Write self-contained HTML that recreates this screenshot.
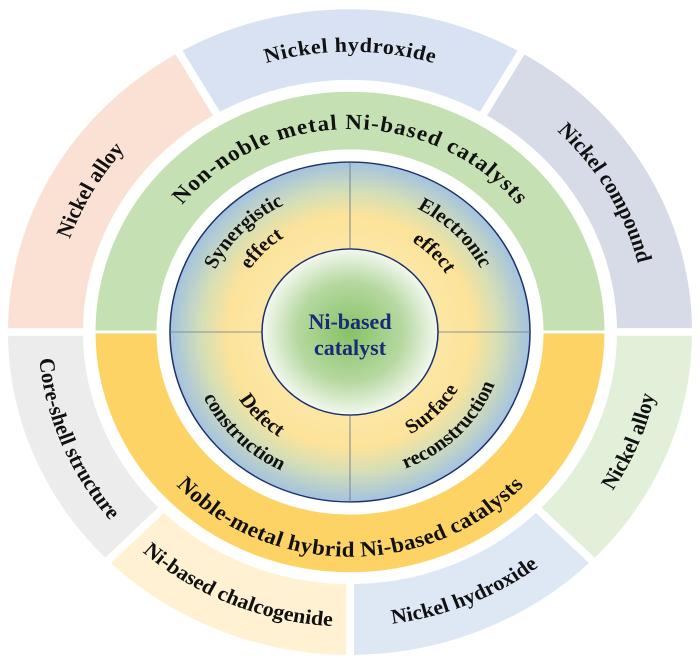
<!DOCTYPE html>
<html><head><meta charset="utf-8"><style>
html,body{margin:0;padding:0;background:#fff;}
svg{display:block;}
text{font-family:"Liberation Serif",serif;font-weight:bold;fill:#111;}
</style></head><body>
<svg width="700" height="663" viewBox="0 0 700 663" xmlns="http://www.w3.org/2000/svg">
<defs>
<radialGradient id="gi" cx="0" cy="0" r="180" gradientUnits="userSpaceOnUse">
<stop offset="0.48" stop-color="#fbe7a6"/>
<stop offset="0.68" stop-color="#fde39a"/>
<stop offset="0.82" stop-color="#d6dfb5"/>
<stop offset="1" stop-color="#a3c3df"/>
</radialGradient>
<radialGradient id="gc" cx="0" cy="0" r="88" gradientUnits="userSpaceOnUse">
<stop offset="0" stop-color="#86c265"/>
<stop offset="0.6" stop-color="#b6d8a0"/>
<stop offset="1" stop-color="#f3f8ef"/>
</radialGradient>
<path id="pT" d="M-257.2,-148.5 A297,297 0 0 1 257.2,-148.5"/>
<path id="pTL" d="M-257.2,148.5 A297,297 0 0 1 0,-297"/>
<path id="pTR" d="M0,-297 A297,297 0 0 1 257.2,148.5"/>
<path id="pG" d="M-215,0 A215,215 0 0 1 215,0"/>
<path id="pY" d="M-238,0 A238,238 0 0 0 238,0"/>
<path id="pB1" d="M-247.5,-190 A312,312 0 0 0 -40.7,309.3"/>
<path id="pB2" d="M-309.3,40.7 A312,312 0 0 0 190,247.5"/>
<path id="pB3" d="M-190,247.5 A312,312 0 0 0 309.3,40.7"/>
<path id="pB4" d="M40.7,309.3 A312,312 0 0 0 247.5,-190"/>
<path id="pS1" d="M-144.9,38.8 A150,150 0 0 1 38.8,-144.9"/>
<path id="pS2" d="M-115.9,31.1 A120,120 0 0 1 31.1,-115.9"/>
<path id="pE1" d="M-38,-142 A147,147 0 0 1 142,38"/>
<path id="pE2" d="M-29.5,-110.1 A114,114 0 0 1 110.1,29.5"/>
<path id="pD1" d="M-127.5,-34.2 A132,132 0 0 0 34.2,127.5"/>
<path id="pD2" d="M-156.5,-41.9 A162,162 0 0 0 41.9,156.5"/>
<path id="pR1" d="M-32.1,119.8 A124,124 0 0 0 119.8,-32.1"/>
<path id="pR2" d="M-40.1,149.7 A155,155 0 0 0 149.7,-40.1"/>
</defs>
<g transform="translate(350,332) scale(1,0.944)">
<g stroke="#fff" stroke-width="8">
<path d="M346,0 A346,346 0 0 0 173,-299.6 L131.5,-227.8 A263,263 0 0 1 263,0 Z" fill="#d6dbe7"/>
<path d="M173,-299.6 A346,346 0 0 0 -173,-299.6 L-131.5,-227.8 A263,263 0 0 1 131.5,-227.8 Z" fill="#d8e2f2"/>
<path d="M-173,-299.6 A346,346 0 0 0 -346,0 L-263,0 A263,263 0 0 1 -131.5,-227.8 Z" fill="#fae1d4"/>
<path d="M-346,0 A346,346 0 0 0 -244.7,244.7 L-186,186 A263,263 0 0 1 -263,0 Z" fill="#ececec"/>
<path d="M-244.7,244.7 A346,346 0 0 0 0,346 L0,263 A263,263 0 0 1 -186,186 Z" fill="#fff1d1"/>
<path d="M0,346 A346,346 0 0 0 244.7,244.7 L186,186 A263,263 0 0 1 0,263 Z" fill="#dee8f5"/>
<path d="M244.7,244.7 A346,346 0 0 0 346,0 L263,0 A263,263 0 0 1 186,186 Z" fill="#e2efd9"/>
</g>
<g stroke="#fff" stroke-width="3">
<path d="M256,0 A256,256 0 0 0 -256,0 L-192,0 A192,192 0 0 1 192,0 Z" fill="#c5e0b3"/>
<path d="M-256,0 A256,256 0 0 0 256,0 L192,0 A192,192 0 0 1 -192,0 Z" fill="#fdd366"/>
</g>
<circle cx="0" cy="0" r="180" fill="url(#gi)" stroke="#1c2f6e" stroke-width="1.5"/>
<line x1="0" y1="-180" x2="0" y2="180" stroke="#6a7896" stroke-width="0.9"/>
<line x1="-180" y1="0" x2="180" y2="0" stroke="#6a7896" stroke-width="0.9"/>
<circle cx="0" cy="0" r="88" fill="url(#gc)" stroke="#1c2f6e" stroke-width="1.5"/>
<g font-size="22" text-anchor="middle">
<text><textPath href="#pT" startOffset="50%" textLength="170" lengthAdjust="spacing">Nickel hydroxide</textPath></text>
<text><textPath href="#pTL" startOffset="50%">Nickel alloy</textPath></text>
<text><textPath href="#pTR" startOffset="50%">Nickel compound</textPath></text>
<text font-size="23"><textPath href="#pG" startOffset="50%" textLength="385" lengthAdjust="spacing">Non-noble metal Ni-based catalysts</textPath></text>
<text font-size="23"><textPath href="#pY" startOffset="50%" textLength="390" lengthAdjust="spacing">Noble-metal hybrid Ni-based catalysts</textPath></text>
<text><textPath href="#pB1" startOffset="50%">Core-shell structure</textPath></text>
<text><textPath href="#pB2" startOffset="50%">Ni-based chalcogenide</textPath></text>
<text><textPath href="#pB3" startOffset="50%">Nickel hydroxide</textPath></text>
<text><textPath href="#pB4" startOffset="50%">Nickel alloy</textPath></text>
</g>
<g font-size="21" text-anchor="middle">
<text><textPath href="#pS1" startOffset="50%">Synergistic</textPath></text>
<text><textPath href="#pS2" startOffset="50%">effect</textPath></text>
<text><textPath href="#pE1" startOffset="50%">Electronic</textPath></text>
<text><textPath href="#pE2" startOffset="50%">effect</textPath></text>
<text><textPath href="#pD1" startOffset="50%">Defect</textPath></text>
<text><textPath href="#pD2" startOffset="50%">construction</textPath></text>
<text><textPath href="#pR1" startOffset="50%">Surface</textPath></text>
<text><textPath href="#pR2" startOffset="50%">reconstruction</textPath></text>
</g>
</g>
<text x="350" y="329" font-size="22" text-anchor="middle" style="fill:#1b2a78">Ni-based</text>
<text x="350" y="355" font-size="22" text-anchor="middle" style="fill:#1b2a78">catalyst</text>
</svg>
</body></html>
